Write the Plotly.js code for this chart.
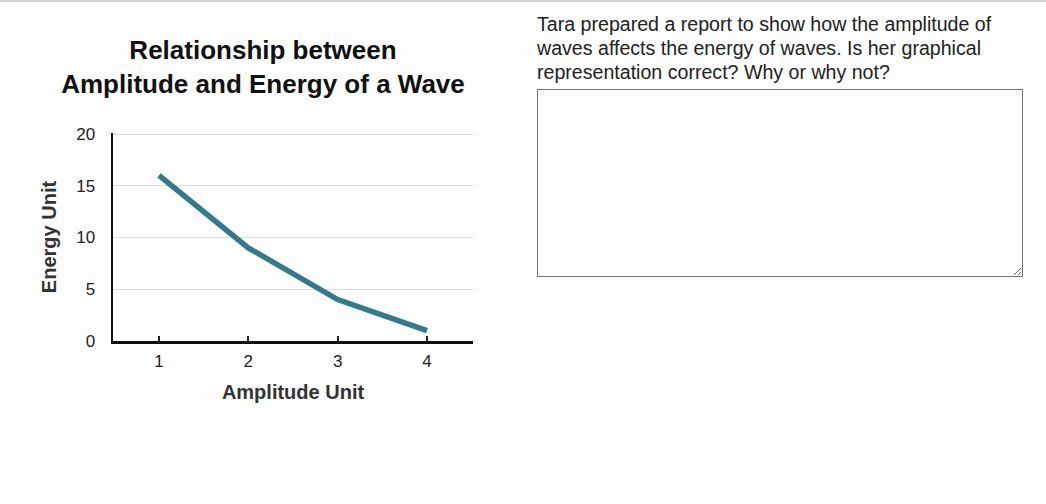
<!DOCTYPE html>
<html>
<head>
<meta charset="utf-8">
<script src="https://cdn.plot.ly/plotly-3.0.1.min.js"></script>
<style>
  html, body { margin: 0; padding: 0; background: #fdfdfd; }
  body { width: 1046px; height: 504px; position: relative; overflow: hidden; }
  #topline { position: absolute; left: 0; top: 0; width: 1046px; height: 2px; background: #d0d0d0; }
  #chart { position: absolute; left: 0; top: 0; width: 1046px; height: 504px; }
  #question { position: absolute; left: 537px; top: 12px; width: 490px;
    font-family: "Liberation Sans", Arial, sans-serif; font-size: 19.6px; line-height: 24px; color: #222; }
  #answer { position: absolute; left: 537px; top: 89px; width: 486px; height: 188px; box-sizing: border-box;
    border: 1px solid #767676; background: #fff; margin: 0; padding: 2px; resize: both; }
</style>
</head>
<body>
<div id="chart"></div>
<div id="topline"></div>
<div id="question">Tara prepared a report to show how the amplitude of<br>waves affects the energy of waves. Is her graphical<br>representation correct? Why or why not?</div>
<textarea id="answer"></textarea>
<script>
const amplitude = [1, 2, 3, 4];
const energy = [16, 9, 4, 1];
const xTicks = [1, 2, 3, 4];
const yTicks = [0, 5, 10, 15, 20];
const chartTitle = "Relationship between<br>Amplitude and Energy of a Wave";
const xTitle = "Amplitude Unit";
const yTitle = "Energy Unit";

const font = '"Liberation Sans", Arial, sans-serif';

const trace = {
  x: amplitude,
  y: energy,
  type: 'scatter',
  mode: 'lines',
  line: { color: '#35798a', width: 5.5 },
  hoverinfo: 'skip'
};

const layout = {
  width: 1046,
  height: 504,
  paper_bgcolor: 'rgba(0,0,0,0)',
  plot_bgcolor: 'rgba(0,0,0,0)',
  margin: { l: 113, r: 573, t: 133, b: 163, pad: 0 },
  showlegend: false,
  font: { family: font, color: '#222' },
  title: {
    text: '<b>' + chartTitle + '</b>',
    font: { family: font, size: 26, color: '#111' },
    xref: 'container', x: 263 / 1046, xanchor: 'center',
    yref: 'container', y: 1 - 59 / 504, yanchor: 'middle'
  },
  xaxis: {
    range: [0.485, 4.515],
    tickvals: xTicks,
    ticktext: xTicks.map(String),
    ticks: 'inside', ticklen: 5, tickwidth: 2, tickcolor: '#222',
    showline: true, linecolor: '#111', linewidth: 2.5,
    showgrid: false, zeroline: false,
    tickfont: { family: font, size: 17, color: '#222' },
    ticklabelstandoff: 3,
    title: { text: '<b>' + xTitle + '</b>', font: { family: font, size: 20, color: '#333' }, standoff: 15 },
    fixedrange: true
  },
  yaxis: {
    range: [0, 20.1],
    tickvals: yTicks,
    ticktext: yTicks.map(String),
    ticks: '',
    showline: true, linecolor: '#111', linewidth: 2.5,
    showgrid: true, gridcolor: '#dddddd', gridwidth: 1,
    zeroline: false,
    tickfont: { family: font, size: 17, color: '#222' },
    ticklabelstandoff: 12,
    title: { text: '<b>' + yTitle + '</b>', font: { family: font, size: 20, color: '#333' }, standoff: 14 },
    fixedrange: true
  }
};

Plotly.newPlot('chart', [trace], layout, { displayModeBar: false, staticPlot: true });
</script>
</body>
</html>
